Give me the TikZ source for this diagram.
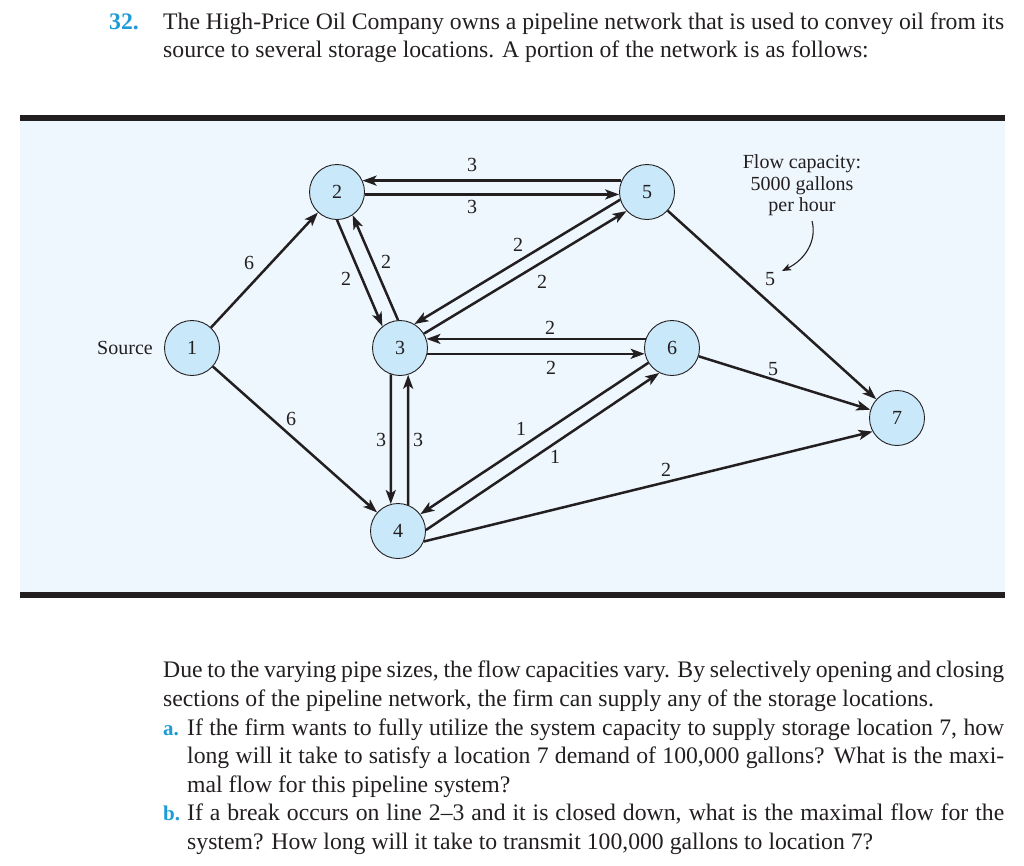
\documentclass[tikz,border=0pt]{standalone}
\usepackage{fontspec}
\setmainfont{Liberation Serif}
\usetikzlibrary{arrows.meta}
\definecolor{bgblue}{RGB}{238,247,253}
\definecolor{nodefill}{RGB}{201,233,250}
\definecolor{ink}{RGB}{35,31,32}
\definecolor{qblue}{RGB}{30,155,215}
\begin{document}
\begin{tikzpicture}[x=1pt,y=-1pt,
  txt/.style={inner sep=0pt, anchor=base west, text=ink, font=\fontsize{23.7}{28.5}\selectfont},
  qlab/.style={inner sep=0pt, anchor=base west, text=qblue, font=\fontsize{23.7}{28.5}\selectfont\bfseries},
  qsmall/.style={inner sep=0pt, anchor=base west, text=qblue, font=\fontsize{21}{26}\selectfont\bfseries},
  vtx/.style={circle, draw=ink, line width=0.9pt, fill=nodefill, minimum size=55pt, inner sep=0pt, text=ink, font=\fontsize{20}{24}\selectfont},
  lab/.style={inner sep=0pt, text=ink, font=\fontsize{20}{24}\selectfont},
  edge/.style={draw=ink, line width=2.5pt, -{Stealth[length=14pt,width=10pt,inset=3.5pt]}},
  note/.style={inner sep=0pt, anchor=base, text=ink, font=\fontsize{20}{24}\selectfont}]
\useasboundingbox (0,0) rectangle (1024,865);
\fill[white] (0,0) rectangle (1024,865);
% top text
\node[qlab] (q32) at (109,29) {32.};
\node[txt] (t1) at (163,29) {\makebox[841pt][s]{The High-Price Oil Company owns a pipeline network that is used to convey oil from its}};
\node[txt] (t2) at (163,57) {source to several storage locations. A portion of the network is as follows:};
% frame
\fill[bgblue] (20,118) rectangle (1005,595);
\fill[ink] (20,115) rectangle (1005,121);
\fill[ink] (20,592) rectangle (1005,598);
% vertices
\node[vtx] (n1) at (192,348) {1};
\node[vtx] (n2) at (337,192) {2};
\node[vtx] (n3) at (400,348) {3};
\node[vtx] (n4) at (398,531) {4};
\node[vtx] (n5) at (647,192) {5};
\node[vtx] (n6) at (672,348) {6};
\node[vtx] (n7) at (897,418) {7};
\node[lab] (src) at (125,348) {Source};
% edges
\draw[edge] (n1) -- (n2);
\draw[edge] (n1) -- (n4);
\draw[edge] (n5.156) -- (n2.24);
\draw[edge] (n2.355) -- (n5.185);
\draw[edge] (n2.270) -- (n3.129);
\draw[edge] (n3.94) -- (n2.304);
\draw[edge] (n5.196) -- (n3.59);
\draw[edge] (n3.31) -- (n5.223);
\draw[edge] (n6.161) -- (n3.19);
\draw[edge] (n3.348) -- (n6.192);
\draw[edge] (n3.251) -- (n4.105);
\draw[edge] (n4.69) -- (n3.287);
\draw[edge] (n6.212) -- (n4.37);
\draw[edge] (n4.2) -- (n6.243);
\draw[edge] (n4.338) -- (n7.209);
\draw[edge] (n6) -- (n7);
\draw[edge] (n5) -- (n7);
% edge labels
\node[lab] (l12) at (249,263) {6};
\node[lab] (l14) at (291,419) {6};
\node[lab] (l52) at (472,165) {3};
\node[lab] (l25) at (472,207) {3};
\node[lab] (l23) at (346,279) {2};
\node[lab] (l32) at (386,262) {2};
\node[lab] (l53) at (518,245) {2};
\node[lab] (l35) at (542,282) {2};
\node[lab] (l63) at (550,328) {2};
\node[lab] (l36) at (551,368) {2};
\node[lab] (l34) at (381,440) {3};
\node[lab] (l43) at (418,440) {3};
\node[lab] (l64) at (521,429) {1};
\node[lab] (l46) at (555,457) {1};
\node[lab] (l47) at (666,470) {2};
\node[lab] (l67) at (773,369) {5};
\node[lab] (l57) at (770,279) {5};
% annotation
\node[note] (a1) at (802,168) {Flow capacity:};
\node[note] (a2) at (802,190) {5000 gallons};
\node[note] (a3) at (802,211) {per hour};
\coordinate (annS) at (812,221);
\coordinate (annE) at (782,271);
\draw[draw=ink, line width=1.1pt, -{Stealth[length=9pt,width=7pt,inset=2pt]}] (annS) .. controls (817,240) and (806,259) .. (annE);
% bottom text
\node[txt] (b1) at (163,677) {\makebox[841pt][s]{Due to the varying pipe sizes, the flow capacities vary. By selectively opening and closing}};
\node[txt] (b2) at (163,706) {sections of the pipeline network, the firm can supply any of the storage locations.};
\node[qsmall] (qa) at (163,735) {a.};
\node[txt] (b3) at (187,735) {\makebox[817pt][s]{If the firm wants to fully utilize the system capacity to supply storage location 7, how}};
\node[txt] (b4) at (187,763) {\makebox[817pt][s]{long will it take to satisfy a location 7 demand of 100,000 gallons? What is the maxi-}};
\node[txt] (b5) at (187,792) {mal flow for this pipeline system?};
\node[qsmall] (qb) at (163,820) {b.};
\node[txt] (b6) at (187,820) {\makebox[817pt][s]{If a break occurs on line 2–3 and it is closed down, what is the maximal flow for the}};
\node[txt] (b7) at (187,849) {system? How long will it take to transmit 100,000 gallons to location 7?};
\end{tikzpicture}
\end{document}
